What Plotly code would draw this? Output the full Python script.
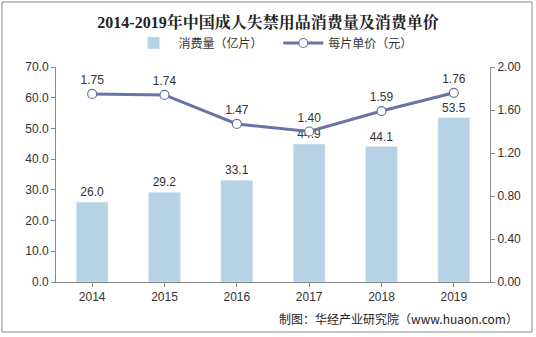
import plotly.graph_objects as go

years = ["2014", "2015", "2016", "2017", "2018", "2019"]
volume = [26.0, 29.2, 33.1, 44.9, 44.1, 53.5]
price = [1.75, 1.74, 1.47, 1.40, 1.59, 1.76]
left_ticks = [0, 10, 20, 30, 40, 50, 60, 70]
right_ticks = [0, 0.4, 0.8, 1.2, 1.6, 2.0]

fig = go.Figure()
fig.add_trace(go.Bar(
    x=years, y=volume, name="消费量（亿片）&nbsp;&nbsp;&nbsp;&nbsp;",
    marker=dict(color="#B7D2E4"), width=0.44,
    text=[f"{v:.1f}" for v in volume], textposition="outside",
    textfont=dict(size=12, color="#333333", family="Liberation Sans"),
    cliponaxis=False,
))
fig.add_trace(go.Scatter(
    x=years, y=price, name="每片单价（元）", yaxis="y2",
    mode="lines+markers+text",
    line=dict(color="#6A74A3", width=3),
    marker=dict(symbol="circle", size=9, color="white", line=dict(color="#6A74A3", width=1.2)),
    text=[f"{v:.2f}" for v in price], textposition="top center",
    textfont=dict(size=12, color="#333333", family="Liberation Sans"),
    cliponaxis=False,
))

fig.update_layout(
    width=536, height=337,
    margin=dict(l=56, r=46, t=67, b=55),
    paper_bgcolor="white", plot_bgcolor="white",
    font=dict(family="Liberation Sans, Noto Sans CJK SC", size=11, color="#333333"),
    title=dict(text="<b>2014-2019年中国成人失禁用品消费量及消费单价</b>",
               x=0.5, xanchor="center", y=0.935, yanchor="middle",
               font=dict(size=16, family="Liberation Serif, Noto Serif CJK SC, Noto Sans CJK SC", color="#222222")),
    legend=dict(orientation="h", x=0.5, xanchor="center", y=(282-43)/215, yanchor="middle",
                font=dict(size=12, family="Noto Sans CJK SC", color="#333333"),
                itemwidth=40, traceorder="normal"),
    bargap=0.5,
    showlegend=True,
    xaxis=dict(showline=True, linecolor="#888888", linewidth=1, ticks="outside",
               ticklen=4, tickcolor="#888888", tickfont=dict(size=12)),
    yaxis=dict(range=[0, 70], tickvals=left_ticks, ticktext=[f"{v:.1f}" for v in left_ticks],
               showline=True, linecolor="#888888", linewidth=1, ticks="outside",
               ticklen=4, tickcolor="#888888", showgrid=False, zeroline=False,
               tickfont=dict(size=12)),
    yaxis2=dict(range=[0, 2.0], tickvals=right_ticks, ticktext=[f"{v:.2f}" for v in right_ticks],
                overlaying="y", side="right",
                showline=True, linecolor="#888888", linewidth=1, ticks="outside",
                ticklen=4, tickcolor="#888888", showgrid=False, zeroline=False,
                tickfont=dict(size=12)),
)

fig.add_shape(type="rect", xref="paper", yref="paper",
              x0=-54/434, x1=476/434, y0=-50/215, y1=(67-2)/215 + 1,
              line=dict(color="#888888", width=1), fillcolor="rgba(0,0,0,0)")
fig.add_annotation(text="制图：华经产业研究院（www.huaon.com）", xref="paper", yref="paper",
                   x=(520-56)/434, xanchor="right", y=-(318-282)/215, yanchor="middle",
                   showarrow=False, font=dict(size=12, family="Noto Sans CJK SC", color="#222222"))

fig.write_html("out.html")
